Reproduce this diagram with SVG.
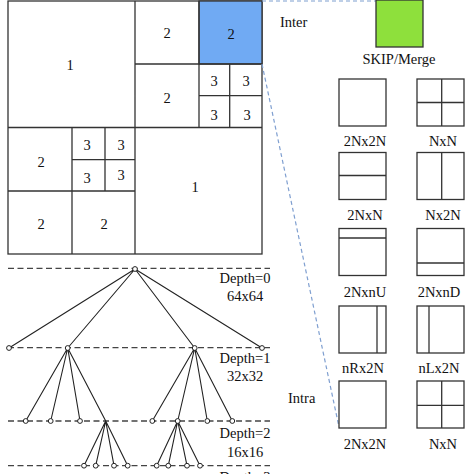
<svg xmlns="http://www.w3.org/2000/svg" width="474" height="474" viewBox="0 0 474 474">
<style>
.b{fill:#fff;stroke:#333;stroke-width:1.3}
.ln{stroke:#333;stroke-width:1.3;fill:none}
.t{font-family:"Liberation Serif","Times New Roman",serif;font-size:14.5px;fill:#111;text-anchor:middle}
.tl{font-family:"Liberation Serif","Times New Roman",serif;font-size:14.5px;fill:#111}
.dl{stroke:#444;stroke-width:1.3;stroke-dasharray:6 3.5;fill:none}
.bd{stroke:#7f9fd0;stroke-width:1.2;stroke-dasharray:4 3;fill:none}
.e{stroke:#222;stroke-width:1.1;fill:none}
.n{fill:#fff;stroke:#222;stroke-width:1}
</style>
<rect width="474" height="474" fill="#fff"/>
<g id="quadtree">
<rect class="b" x="8" y="1" width="254" height="253"/>
<rect x="199" y="1" width="63" height="63" fill="#70aaf3" stroke="#333" stroke-width="1.3"/>
<path class="ln" d="M135,1V254M8,127.5H262M199,1V127.5M135,64H262M229.7,64V127.5M199,95.7H262M72,127.5V254M8,191H135M105,127.5V191M72,159.7H135"/>
<text class="t" x="70" y="70">1</text>
<text class="t" x="167" y="38">2</text>
<text class="t" x="231" y="39">2</text>
<text class="t" x="167" y="103">2</text>
<text class="t" x="214" y="86">3</text>
<text class="t" x="246" y="86">3</text>
<text class="t" x="214" y="120">3</text>
<text class="t" x="247" y="120">3</text>
<text class="t" x="41" y="167">2</text>
<text class="t" x="87" y="150">3</text>
<text class="t" x="121" y="150">3</text>
<text class="t" x="87" y="183">3</text>
<text class="t" x="121" y="180">3</text>
<text class="t" x="41" y="229">2</text>
<text class="t" x="104" y="229">2</text>
<text class="t" x="195" y="192">1</text>
</g>
<g id="connectors">
<path class="bd" d="M262,1H376M262,64L339,427"/>
<path class="dl" d="M8,268.3H270M8,347.7H270M8,421H270M8,465.7H270"/>
<path class="e" d="M135,269L9,348M135,269L67.7,348M135,269L194.7,348M135,269L262,348
M67.7,348L25.7,421M67.7,348L50.7,421M67.7,348L80,421M67.7,348L105.7,421
M194.7,348L152.3,421M194.7,348L177.7,421M194.7,348L207.3,421M194.7,348L232.3,421
M105.7,421L84,465.7M105.7,421L95.7,465.7M105.7,421L114,465.7M105.7,421L127.7,465.7
M177.7,421L156.7,465.7M177.7,421L168.3,465.7M177.7,421L187,465.7M177.7,421L200,465.7"/>
</g>
<g id="tree-nodes">
<circle class="n" cx="135" cy="269" r="2.4"/>
<circle class="n" cx="9" cy="348" r="2.4"/>
<circle class="n" cx="67.7" cy="348" r="2.4"/>
<circle class="n" cx="194.7" cy="348" r="2.4"/>
<circle class="n" cx="262" cy="348" r="2.4"/>
<circle class="n" cx="25.7" cy="421" r="2.4"/>
<circle class="n" cx="50.7" cy="421" r="2.4"/>
<circle class="n" cx="80" cy="421" r="2.4"/>
<circle class="n" cx="152.3" cy="421" r="2.4"/>
<circle class="n" cx="177.7" cy="421" r="2.4"/>
<circle class="n" cx="207.3" cy="421" r="2.4"/>
<circle class="n" cx="232.3" cy="421" r="2.4"/>
<circle class="n" cx="84" cy="465.7" r="2.4"/>
<circle class="n" cx="95.7" cy="465.7" r="2.4"/>
<circle class="n" cx="114" cy="465.7" r="2.4"/>
<circle class="n" cx="127.7" cy="465.7" r="2.4"/>
<circle class="n" cx="156.7" cy="465.7" r="2.4"/>
<circle class="n" cx="168.3" cy="465.7" r="2.4"/>
<circle class="n" cx="187" cy="465.7" r="2.4"/>
<circle class="n" cx="200" cy="465.7" r="2.4"/>
</g>
<g id="depth-labels">
<text class="t" x="245" y="283.3">Depth=0</text>
<text class="t" x="245" y="300.7">64x64</text>
<text class="t" x="245" y="363.3">Depth=1</text>
<text class="t" x="245" y="381">32x32</text>
<text class="t" x="245" y="438.3">Depth=2</text>
<text class="t" x="245" y="456.7">16x16</text>
<text class="t" x="245" y="482">Depth=3</text>
</g>
<g id="inter-label"><text class="tl" x="280" y="27">Inter</text></g>
<g id="skip-merge">
<rect x="376" y="0" width="47" height="47" fill="#8ee03c" stroke="#333" stroke-width="1.3"/>
<text class="t" x="399" y="64">SKIP/Merge</text>
</g>
<g id="inter-2Nx2N"><rect class="b" x="339" y="79" width="47" height="47"/><text class="t" x="365" y="146">2Nx2N</text></g>
<g id="inter-NxN"><rect class="b" x="417" y="79" width="47" height="47"/><path class="ln" d="M441.7,79V126M417,102.5H464"/><text class="t" x="443" y="146">NxN</text></g>
<g id="p-2NxN"><rect class="b" x="339" y="152.5" width="47" height="47"/><path class="ln" d="M339,175.5H386"/><text class="t" x="365" y="219.5">2NxN</text></g>
<g id="p-Nx2N"><rect class="b" x="417" y="152.5" width="47" height="47"/><path class="ln" d="M441.7,152.5V199.5"/><text class="t" x="443" y="219.5">Nx2N</text></g>
<g id="p-2NxnU"><rect class="b" x="339" y="228.5" width="47" height="47"/><path class="ln" d="M339,238H386"/><text class="t" x="365" y="297">2NxnU</text></g>
<g id="p-2NxnD"><rect class="b" x="417" y="228.5" width="47" height="47"/><path class="ln" d="M417,263H464"/><text class="t" x="439" y="297">2NxnD</text></g>
<g id="p-nRx2N"><rect class="b" x="339" y="306" width="47" height="47"/><path class="ln" d="M377,306V353"/><text class="t" x="363" y="373">nRx2N</text></g>
<g id="p-nLx2N"><rect class="b" x="417" y="306" width="47" height="47"/><path class="ln" d="M429,306V353"/><text class="t" x="439" y="373">nLx2N</text></g>
<g id="intra-label"><text class="tl" x="288" y="403">Intra</text></g>
<g id="intra-2Nx2N"><rect class="b" x="339" y="381" width="47" height="47"/><text class="t" x="365" y="449">2Nx2N</text></g>
<g id="intra-NxN"><rect class="b" x="417" y="381" width="47" height="47"/><path class="ln" d="M441.7,381V428M417,405.3H464"/><text class="t" x="443" y="449">NxN</text></g>
</svg>
